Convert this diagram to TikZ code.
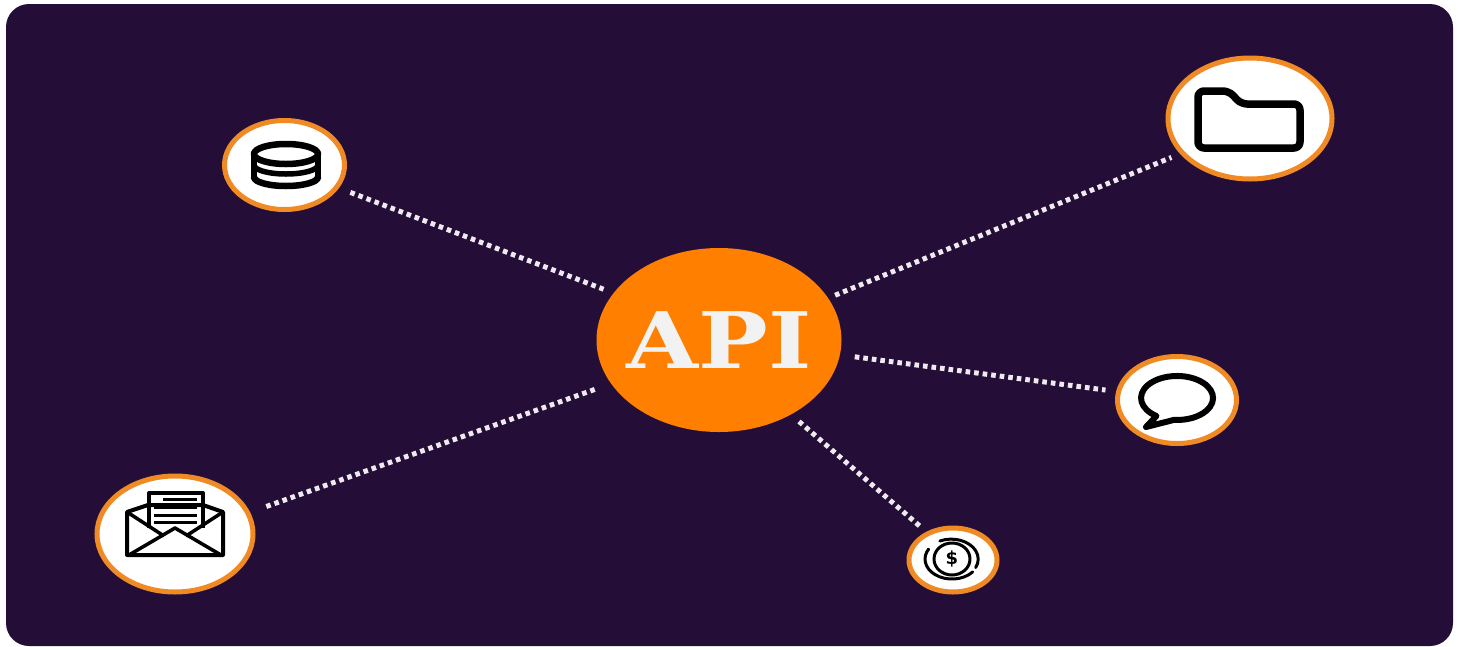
\documentclass[tikz,border=0pt]{standalone}
\usepackage{fontspec}
\setmainfont{DejaVu Serif}
\setsansfont{DejaVu Sans}
\usetikzlibrary{shapes.geometric}
\definecolor{panelbg}{HTML}{240E38}
\definecolor{hubfill}{HTML}{FF7F00}
\definecolor{ringcol}{HTML}{F08A24}
\definecolor{wirecol}{HTML}{EFEAEF}
\definecolor{labelcol}{HTML}{F2F2F2}
\tikzset{
    hubnode/.style={ellipse, fill=hubfill, inner sep=0pt, outer sep=0pt, minimum width=245pt, minimum height=184pt, text=labelcol},
    ringnode/.style={ellipse, draw=ringcol, line width=5pt, fill=white, inner sep=0pt, outer sep=0pt},
    wire/.style={wirecol, line width=5pt, dash pattern=on 4.6pt off 4pt},
    iconline/.style={black, line join=round, line cap=round}
}
\begin{document}
\begin{tikzpicture}[x=1pt,y=-1pt]
    \useasboundingbox (0,0) rectangle (1460,646);
    \fill[panelbg, rounded corners=23pt] (6,4) rectangle (1453,646);

    % hub and satellites
    \node[hubnode] (apihub) at (719,340) {\makebox[0pt]{\scalebox{1.19}[1]{\fontsize{78}{90}\selectfont\bfseries API}}};
    \node[ringnode, minimum width=120pt, minimum height=89pt] (dbnode) at (284.5,165) {};
    \node[ringnode, minimum width=164pt, minimum height=121pt] (foldernode) at (1250,118.5) {};
    \node[ringnode, minimum width=156pt, minimum height=116pt] (mailnode) at (175,534) {};
    \node[ringnode, minimum width=119pt, minimum height=87pt] (chatnode) at (1177,400) {};
    \node[ringnode, minimum width=88pt, minimum height=64pt] (coinnode) at (953,560) {};

    % dotted links
    \draw[wire, shorten <=14.8pt, shorten >=10.8pt] (dbnode.-23.7) -- (apihub.156.4);
    \draw[wire, shorten <=7.6pt, shorten >=12pt] (apihub.21.1) -- (foldernode.207.6);
    \draw[wire, shorten <=15pt, shorten >=13.2pt] (apihub.-7.1) -- (chatnode.172.9);
    \draw[wire, shorten <=10.7pt, shorten >=11.3pt] (apihub.-46.6) -- (coinnode.133.6);
    \draw[wire, shorten <=19.7pt, shorten >=16.8pt] (mailnode.16.8) -- (apihub.202.5);

    % database icon
    \draw[iconline, line width=6.5pt] (286,154) ellipse [x radius=32, y radius=10];
    \draw[iconline, line width=6.5pt] (254,154) -- (254,177);
    \draw[iconline, line width=6.5pt] (318,154) -- (318,177);
    \draw[iconline, line width=5.5pt] (254,165) arc [start angle=180, end angle=0, x radius=32, y radius=9];
    \draw[iconline, line width=6.5pt] (254,177) arc [start angle=180, end angle=0, x radius=32, y radius=9];

    % folder icon
    \draw[iconline, line width=7.5pt, rounded corners=6pt] (1198,148) -- (1198,91) -- (1229,91) -- (1241,104) -- (1300,104) -- (1300,148) -- cycle;

    % mail icon
    \draw[iconline, line width=4pt, line cap=butt, fill=white] (127,555) -- (127,512) -- (148,505) -- (203,505) -- (223,512) -- (223,555) -- cycle;
    \draw[iconline, line width=3.5pt, line cap=butt] (127,512) -- (164,536);
    \draw[iconline, line width=3.5pt, line cap=butt] (223,512) -- (186,536);
    \draw[iconline, line width=4pt, line cap=butt] (149,528) -- (149,493) -- (203,493) -- (203,528);
    \draw[iconline, line width=3.5pt, line cap=butt] (129,555) -- (175,528) -- (221,555);
    \draw[iconline, line width=3pt, line cap=butt] (163,499.5) -- (197,499.5);
    \draw[iconline, line width=3pt, line cap=butt] (154,507.5) -- (197,507.5);
    \draw[iconline, line width=3pt, line cap=butt] (154,515) -- (197,515);
    \draw[iconline, line width=3pt, line cap=butt] (154,522.5) -- (197,522.5);

    % chat icon
    \draw[iconline, line width=6pt] (1156.4,416) arc [start angle=125, end angle=455, x radius=36, y radius=22] -- (1146,427) -- cycle;

    % coin icon
    \draw[iconline, line width=3pt] (952,559) ellipse [x radius=18, y radius=16];
    \draw[iconline, line width=3pt] (939.8,541) arc [start angle=-115, end angle=25, x radius=27, y radius=20];
    \draw[iconline, line width=3pt] (972.7,571.9) arc [start angle=40, end angle=210, x radius=27, y radius=20];
    \node[inner sep=0pt, font=\fontsize{18}{18}\selectfont\sffamily\bfseries] (coinmark) at (952,559) {\$};
\end{tikzpicture}
\end{document}
